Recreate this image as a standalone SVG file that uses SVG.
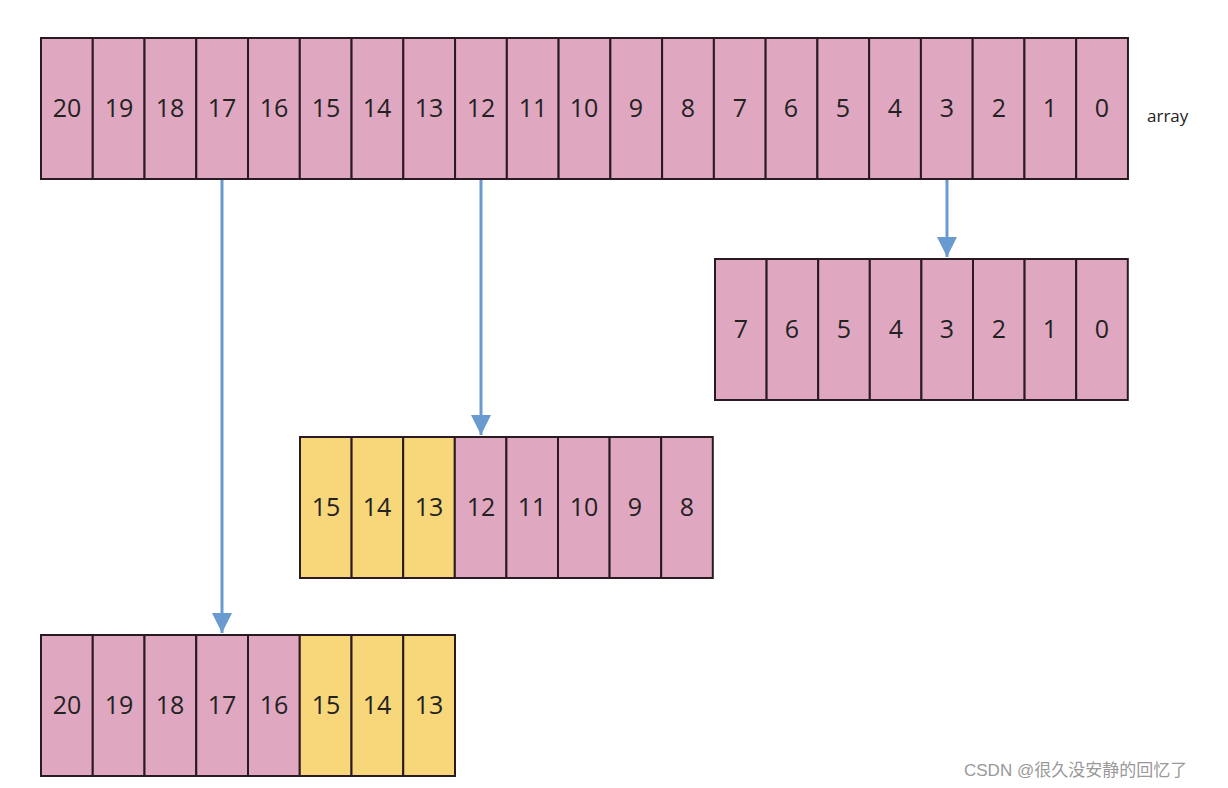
<svg xmlns="http://www.w3.org/2000/svg" width="1228" height="788" viewBox="0 0 1228 788">
<defs>
<style>
.p{fill:#E0A7C1;stroke:#2a1a22;stroke-width:2}
.y{fill:#F8D77A;stroke:#2a1a22;stroke-width:2}
.t{font-family:"Open Sans","Liberation Sans",sans-serif;font-size:25px;fill:#222;text-anchor:middle}
.c{stroke:#6A9BD0;stroke-width:3;fill:none}
</style>
<marker id="a" viewBox="0 0 10 10" refX="9" refY="5" markerWidth="8" markerHeight="8" markerUnits="userSpaceOnUse" orient="auto"><path d="M0,0L10,5L0,10z" fill="#6A9BD0"/></marker>
<marker id="ah" viewBox="0 0 22 20" refX="20" refY="10" markerWidth="22" markerHeight="20" markerUnits="userSpaceOnUse" orient="auto"><path d="M0,0L20,10L0,20z" fill="#6A9BD0"/></marker>
</defs>
<rect width="1228" height="788" fill="#fff"/>
<g id="array">
<g class="p">
<rect x="41" y="38" width="51.76" height="141"/><rect x="92.76" y="38" width="51.76" height="141"/><rect x="144.52" y="38" width="51.76" height="141"/><rect x="196.28" y="38" width="51.76" height="141"/><rect x="248.04" y="38" width="51.76" height="141"/><rect x="299.8" y="38" width="51.76" height="141"/><rect x="351.56" y="38" width="51.76" height="141"/><rect x="403.32" y="38" width="51.76" height="141"/><rect x="455.08" y="38" width="51.76" height="141"/><rect x="506.84" y="38" width="51.76" height="141"/><rect x="558.6" y="38" width="51.76" height="141"/><rect x="610.36" y="38" width="51.76" height="141"/><rect x="662.12" y="38" width="51.76" height="141"/><rect x="713.88" y="38" width="51.76" height="141"/><rect x="765.64" y="38" width="51.76" height="141"/><rect x="817.4" y="38" width="51.76" height="141"/><rect x="869.16" y="38" width="51.76" height="141"/><rect x="920.92" y="38" width="51.76" height="141"/><rect x="972.68" y="38" width="51.76" height="141"/><rect x="1024.44" y="38" width="51.76" height="141"/><rect x="1076.2" y="38" width="51.76" height="141"/>
</g>
<g class="t">
<text x="67" y="117">20</text><text x="119" y="117">19</text><text x="170" y="117">18</text><text x="222" y="117">17</text><text x="274" y="117">16</text><text x="326" y="117">15</text><text x="377" y="117">14</text><text x="429" y="117">13</text><text x="481" y="117">12</text><text x="533" y="117">11</text><text x="584" y="117">10</text><text x="636" y="117">9</text><text x="688" y="117">8</text><text x="740" y="117">7</text><text x="791" y="117">6</text><text x="843" y="117">5</text><text x="895" y="117">4</text><text x="947" y="117">3</text><text x="999" y="117">2</text><text x="1050" y="117">1</text><text x="1102" y="117">0</text>
</g>
<text x="1147" y="122" font-family="Open Sans,Liberation Sans,sans-serif" font-size="17" fill="#222">array</text>
</g>
<g id="low">
<g class="p">
<rect x="715" y="259" width="51.6" height="141"/><rect x="766.6" y="259" width="51.6" height="141"/><rect x="818.2" y="259" width="51.6" height="141"/><rect x="869.8" y="259" width="51.6" height="141"/><rect x="921.4" y="259" width="51.6" height="141"/><rect x="973" y="259" width="51.6" height="141"/><rect x="1024.6" y="259" width="51.6" height="141"/><rect x="1076.2" y="259" width="51.6" height="141"/>
</g>
<g class="t"><text x="741" y="338">7</text><text x="792" y="338">6</text><text x="844" y="338">5</text><text x="896" y="338">4</text><text x="947" y="338">3</text><text x="999" y="338">2</text><text x="1050" y="338">1</text><text x="1102" y="338">0</text></g>
</g>
<g id="mid">
<g class="y"><rect x="300" y="437" width="51.6" height="141"/><rect x="351.6" y="437" width="51.6" height="141"/><rect x="403.2" y="437" width="51.6" height="141"/></g>
<g class="p"><rect x="454.8" y="437" width="51.6" height="141"/><rect x="506.4" y="437" width="51.6" height="141"/><rect x="558" y="437" width="51.6" height="141"/><rect x="609.6" y="437" width="51.6" height="141"/><rect x="661.2" y="437" width="51.6" height="141"/></g>
<g class="t"><text x="326" y="516">15</text><text x="377" y="516">14</text><text x="429" y="516">13</text><text x="481" y="516">12</text><text x="532" y="516">11</text><text x="584" y="516">10</text><text x="635" y="516">9</text><text x="687" y="516">8</text></g>
</g>
<g id="high">
<g class="p"><rect x="41" y="635" width="51.75" height="141"/><rect x="92.75" y="635" width="51.75" height="141"/><rect x="144.5" y="635" width="51.75" height="141"/><rect x="196.25" y="635" width="51.75" height="141"/><rect x="248" y="635" width="51.75" height="141"/></g>
<g class="y"><rect x="299.75" y="635" width="51.75" height="141"/><rect x="351.5" y="635" width="51.75" height="141"/><rect x="403.25" y="635" width="51.75" height="141"/></g>
<g class="t"><text x="67" y="714">20</text><text x="119" y="714">19</text><text x="170" y="714">18</text><text x="222" y="714">17</text><text x="274" y="714">16</text><text x="326" y="714">15</text><text x="377" y="714">14</text><text x="429" y="714">13</text></g>
</g>
<g id="connectors">
<line class="c" x1="947" y1="180" x2="947" y2="257" marker-end="url(#ah)"/>
<line class="c" x1="481" y1="180" x2="481" y2="435" marker-end="url(#ah)"/>
<line class="c" x1="222" y1="180" x2="222" y2="633" marker-end="url(#ah)"/>
</g>
<text x="964" y="776" font-family="Liberation Sans,Noto Sans CJK SC,sans-serif" font-size="17" fill="#999">CSDN @很久没安静的回忆了</text>
</svg>
